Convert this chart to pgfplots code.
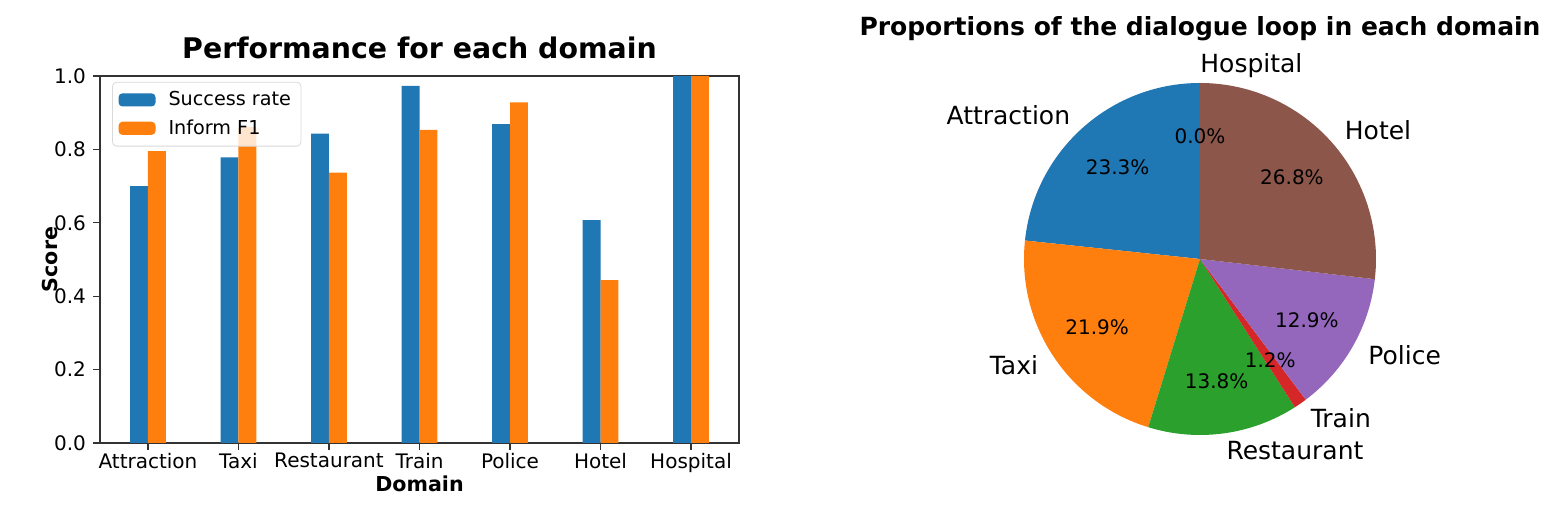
\documentclass[border=0pt]{standalone}
\usepackage{pgfplots}
\pgfplotsset{compat=1.18}
\usepackage{pgfplotstable}
\usepackage{fontspec}
\setmainfont{DejaVu Sans}
\definecolor{tabblue}{HTML}{1F77B4}
\definecolor{taborange}{HTML}{FF7F0E}
\definecolor{tabgreen}{HTML}{2CA02C}
\definecolor{tabred}{HTML}{D62728}
\definecolor{tabpurple}{HTML}{9467BD}
\definecolor{tabbrown}{HTML}{8C564B}

\pgfplotstableread{
x sr f1
0 0.700 0.795
1 0.778 0.861
2 0.843 0.737
3 0.973 0.853
4 0.869 0.928
5 0.607 0.444
6 1.000 1.000
}\perf

% pie shares (percent): Hospital, Attraction, Taxi, Restaurant, Train, Police, Hotel
\def\pHos{0.0}\def\pAtt{23.3}\def\pTax{21.9}\def\pRes{13.8}\def\pTra{1.2}\def\pPol{12.9}\def\pHot{26.8}
\pgfmathsetmacro\tot{\pHos+\pAtt+\pTax+\pRes+\pTra+\pPol+\pHot}
\pgfmathsetmacro\aA{90}
\pgfmathsetmacro\aB{\aA+360*\pHos/\tot}
\pgfmathsetmacro\aC{\aB+360*\pAtt/\tot}
\pgfmathsetmacro\aD{\aC+360*\pTax/\tot}
\pgfmathsetmacro\aE{\aD+360*\pRes/\tot}
\pgfmathsetmacro\aF{\aE+360*\pTra/\tot}
\pgfmathsetmacro\aG{\aF+360*\pPol/\tot}
\pgfmathsetmacro\aH{\aG+360*\pHot/\tot}
\pgfmathsetmacro\mA{(\aA+\aB)/2}
\pgfmathsetmacro\mB{(\aB+\aC)/2}
\pgfmathsetmacro\mC{(\aC+\aD)/2}
\pgfmathsetmacro\mD{(\aD+\aE)/2}
\pgfmathsetmacro\mE{(\aE+\aF)/2}
\pgfmathsetmacro\mF{(\aF+\aG)/2}
\pgfmathsetmacro\mG{(\aG+\aH)/2}

\begin{document}
\begin{tikzpicture}
\useasboundingbox (0,0) rectangle (778.5pt,256.5pt);
\begin{axis}[
  at={(50pt,35pt)}, anchor=south west,
  scale only axis, width=319.5pt, height=183.5pt,
  xmin=-0.53, xmax=6.53, ymin=0, ymax=1,
  clip=false,
  xtick={0,...,6},
  xticklabels={Attraction,Taxi,Restaurant,Train,Police,Hotel,Hospital},
  ytick={0,0.2,0.4,0.6,0.8,1.0},
  yticklabel style={/pgf/number format/.cd,fixed,fixed zerofill,precision=1},
  xticklabel style={yshift=2pt},
  /pgf/number format/assume math mode=true,
  tick label style={font=\fontsize{10}{12}\selectfont},
  xtick pos=bottom, ytick pos=left,
  tick align=outside, major tick length=3.5pt,
  tick style={black!80, line width=0.6pt},
  axis line style={black!80, line width=0.6pt},
  xlabel={\bfseries Domain}, ylabel={\bfseries Score},
  label style={font=\fontsize{10.3}{12}\selectfont},
  xlabel style={at={(axis description cs:0.5,-0.112)}, anchor=center},
  ylabel style={at={(axis description cs:-0.078,0.5)}, anchor=center},
  legend style={at={(0.019,0.984)}, anchor=north west, draw=black!15, rounded corners=2pt,
    fill=white, fill opacity=0.8, text opacity=1,
    font=\fontsize{9.6}{11}\selectfont, inner xsep=3pt, inner ysep=2.5pt,
    row sep=1.5pt},
  legend cell align=left,
  legend image code/.code={\fill[#1, fill opacity=1] (0pt,-3.3pt) rectangle (18.5pt,3.3pt); \path (23pt,0pt);},
]
\addplot[ybar, bar width=8.9pt, bar shift=-4.45pt, fill=tabblue, draw=none] table[x=x,y=sr]{\perf};
\addplot[ybar, bar width=8.9pt, bar shift=4.45pt, fill=taborange, draw=none] table[x=x,y=f1]{\perf};
\legend{Success rate, Inform F1}
\node[font=\fontsize{14.2}{16}\selectfont\bfseries, anchor=base] at (axis description cs:0.5,1.049) {Performance for each domain};
\end{axis}

\begin{axis}[
  at={(600pt,127pt)}, anchor=center,
  scale only axis, width=176pt, height=176pt,
  xmin=-1, xmax=1, ymin=-1, ymax=1,
  hide axis, clip=false,
]
\fill[tabblue]   (axis cs:0,0) -- ++(\aB:88pt) arc[start angle=\aB, end angle=\aC, radius=88pt] -- cycle;
\fill[taborange] (axis cs:0,0) -- ++(\aC:88pt) arc[start angle=\aC, end angle=\aD, radius=88pt] -- cycle;
\fill[tabgreen]  (axis cs:0,0) -- ++(\aD:88pt) arc[start angle=\aD, end angle=\aE, radius=88pt] -- cycle;
\fill[tabred]    (axis cs:0,0) -- ++(\aE:88pt) arc[start angle=\aE, end angle=\aF, radius=88pt] -- cycle;
\fill[tabpurple] (axis cs:0,0) -- ++(\aF:88pt) arc[start angle=\aF, end angle=\aG, radius=88pt] -- cycle;
\fill[tabbrown]  (axis cs:0,0) -- ++(\aG:88pt) arc[start angle=\aG, end angle=\aH, radius=88pt] -- cycle;
% category labels
\begin{scope}[every node/.style={font=\fontsize{12.5}{14}\selectfont, inner sep=0pt}]
\path (axis cs:0,0) ++(\mA:96.8pt) node[anchor=west]{Hospital};
\path (axis cs:0,0) ++(\mB:96.8pt) node[anchor=east]{Attraction};
\path (axis cs:0,0) ++(\mC:96.8pt) node[anchor=east]{Taxi};
\path (axis cs:0,0) ++(\mD:96.8pt) node[anchor=west]{Restaurant};
\path (axis cs:0,0) ++(\mE:96.8pt) node[anchor=west]{Train};
\path (axis cs:0,0) ++(\mF:96.8pt) node[anchor=west]{Police};
\path (axis cs:0,0) ++(\mG:96.8pt) node[anchor=west]{Hotel};
\end{scope}
\begin{scope}[every node/.style={font=\fontsize{10}{12}\selectfont, inner sep=0pt}]
\path (axis cs:0,0) ++(\mA:61.6pt) node{0.0\%};
\path (axis cs:0,0) ++(\mB:61.6pt) node{23.3\%};
\path (axis cs:0,0) ++(\mC:61.6pt) node{21.9\%};
\path (axis cs:0,0) ++(\mD:61.6pt) node{13.8\%};
\path (axis cs:0,0) ++(\mE:61.6pt) node{1.2\%};
\path (axis cs:0,0) ++(\mF:61.6pt) node{12.9\%};
\path (axis cs:0,0) ++(\mG:61.6pt) node{26.8\%};
\end{scope}
\node[font=\fontsize{12.5}{14}\selectfont\bfseries, anchor=base] at (axis description cs:0.5,1.136) {Proportions of the dialogue loop in each domain};
\end{axis}
\end{tikzpicture}
\end{document}
